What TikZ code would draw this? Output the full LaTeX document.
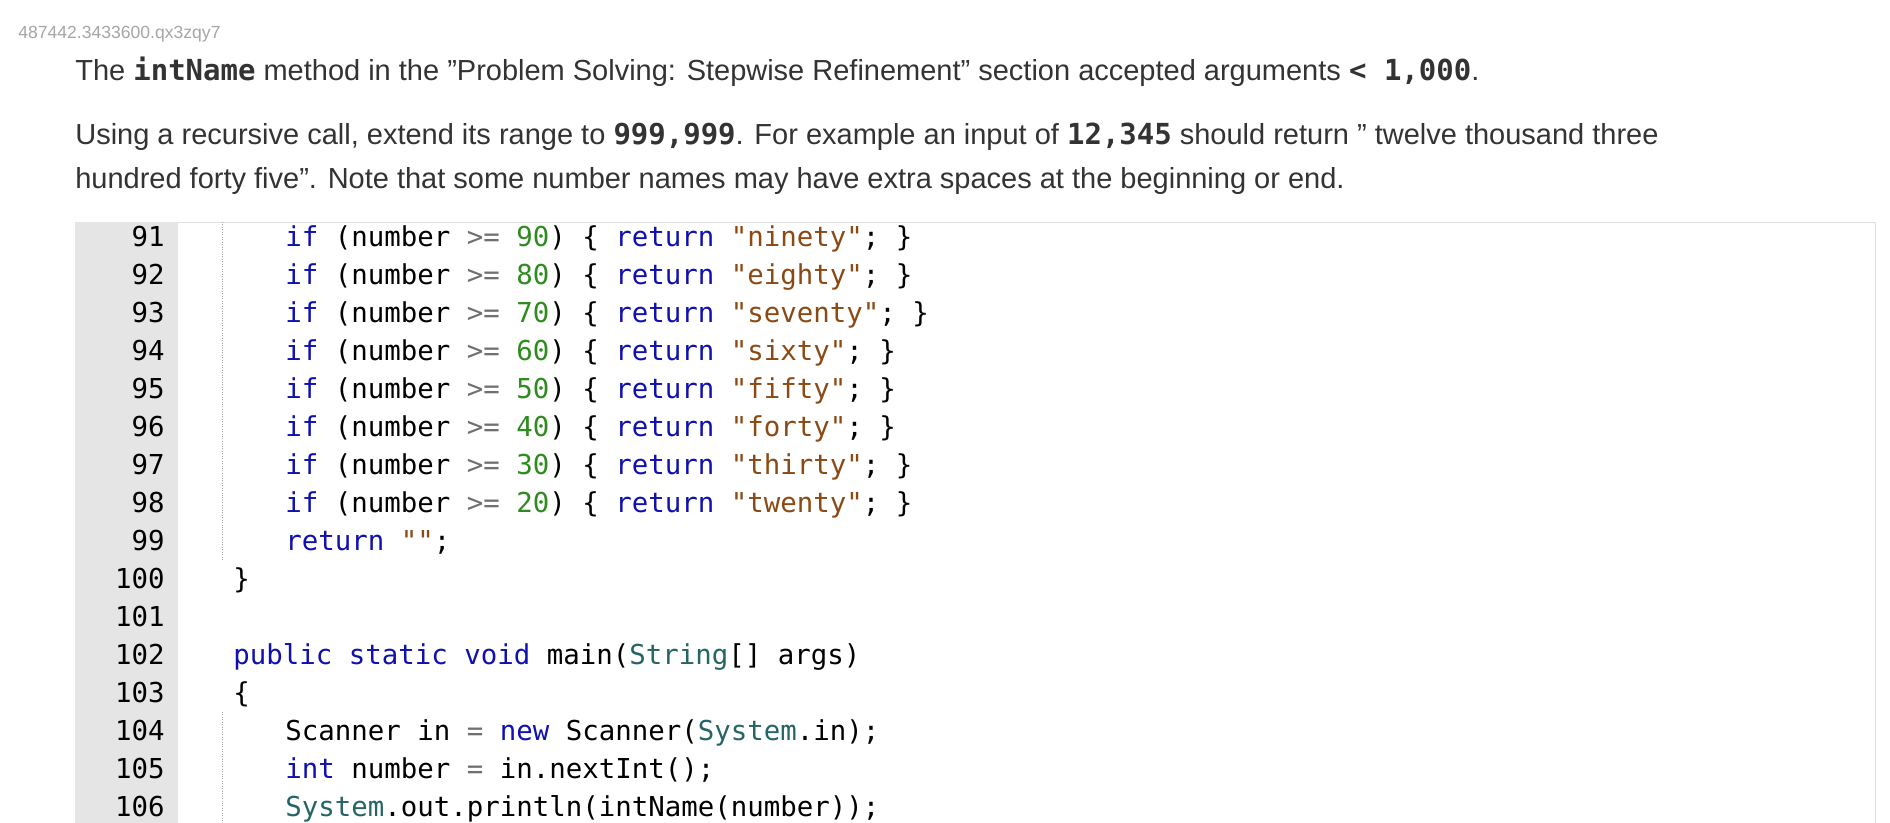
\documentclass[tikz,border=0pt]{standalone}
\usepackage{fontspec}
\setmainfont{Liberation Sans}
\setmonofont{DejaVu Sans Mono}
\definecolor{txt}{HTML}{333333}
\definecolor{kwc}{HTML}{1010B0}
\definecolor{numc}{HTML}{2E8B1E}
\definecolor{strc}{HTML}{8B4A14}
\definecolor{tyc}{HTML}{256565}
\definecolor{opc}{HTML}{707070}
\newcommand{\kw}[1]{\textcolor{kwc}{#1}}
\newcommand{\nm}[1]{\textcolor{numc}{#1}}
\newcommand{\st}[1]{\textcolor{strc}{#1}}
\newcommand{\ty}[1]{\textcolor{tyc}{#1}}
\newcommand{\op}[1]{\textcolor{opc}{#1}}
\newcommand{\ic}[1]{{\ttfamily\bfseries #1}}
\begin{document}
\begin{tikzpicture}[x=0.02cm,y=-0.02cm,
  body/.style={anchor=base west,inner sep=0,text=txt,font=\fontsize{16.5}{20}\selectfont},
  code/.style={anchor=base west,inner sep=0,text=black,font=\fontsize{15.6}{18}\ttfamily},
  lnum/.style={anchor=base east,inner sep=0,text=black,font=\fontsize{15.6}{18}\ttfamily}]
\useasboundingbox[fill=white] (0,0) rectangle (1890,822);
\node[anchor=base west,inner sep=0,text=gray!70,font=\fontsize{10}{12}\selectfont] (id) at (18,38) {487442.3433600.qx3zqy7};
\node[body] (l1) at (75,80) {The \ic{intName} method in the "Problem Solving: Stepwise Refinement" section accepted arguments \ic{< 1,000}.};
\node[body] (l2) at (75,144) {Using a recursive call, extend its range to \ic{999,999}. For example an input of \ic{12,345} should return " twelve thousand three};
\node[body] (l3) at (75,188) {hundred forty five". Note that some number names may have extra spaces at the beginning or end.};
\draw[black!12,fill=white] (75,222) rectangle (1875,830);
\fill[black!10] (75,222) rectangle (178,830);
\draw[black!35,densely dotted] (222,222) -- (222,560);
\draw[black!35,densely dotted] (222,712) -- (222,822);
\foreach \n [count=\i from 0] in {91,...,106}{
  \node[lnum] (n\n) at (165,246+38*\i) {\n};
}
\foreach \n/\v/\s [count=\i from 0] in {90/ninety/,80/eighty/,70/seventy/,60/sixty/,50/fifty/,40/forty/,30/thirty/,20/twenty/}{
  \node[code] (c\n) at (285,246+38*\i) {\kw{if} (number \op{>=} \nm{\n}) \{ \kw{return} \st{"\v"}; \}};
}
\node[code] (r99) at (285,550) {\kw{return} \st{""};};
\node[code] (r100) at (233,588) {\}};
\node[code] (r102) at (233,664) {\kw{public} \kw{static} \kw{void} main(\ty{String}[] args)};
\node[code] (r103) at (233,702) {\{};
\node[code] (r104) at (285,740) {Scanner in \op{=} \kw{new} Scanner(\ty{System}.in);};
\node[code] (r105) at (285,778) {\kw{int} number \op{=} in.nextInt();};
\node[code] (r106) at (285,816) {\ty{System}.out.println(intName(number));};
\end{tikzpicture}
\end{document}
